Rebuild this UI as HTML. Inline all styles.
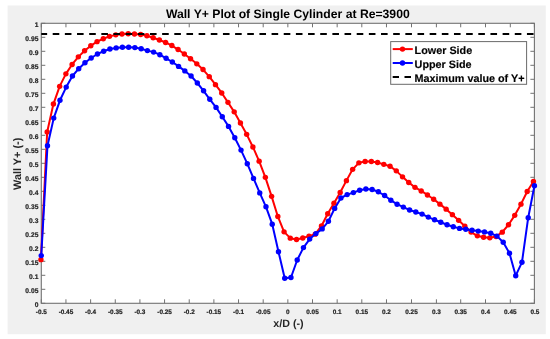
<!DOCTYPE html>
<html><head><meta charset="utf-8"><title>Wall Y+ Plot</title>
<style>html,body{margin:0;padding:0;background:#fff;width:550px;height:339px;overflow:hidden;position:relative}</style>
</head><body>
<svg width="550" height="339" viewBox="0 0 550 339" style="position:absolute;left:0;top:0;text-rendering:geometricPrecision;filter:blur(0.35px)"><rect x="7.6" y="5.5" width="538.2" height="328.7" fill="#f0f0f0"/><rect x="41.3" y="23.3" width="493.09999999999997" height="280.0" fill="#ffffff"/><path d="M41.30,303.3v-4M41.30,23.3v4M41.3,303.30h4M534.4,303.30h-4M65.95,303.3v-4M65.95,23.3v4M41.3,289.30h4M534.4,289.30h-4M90.61,303.3v-4M90.61,23.3v4M41.3,275.30h4M534.4,275.30h-4M115.27,303.3v-4M115.27,23.3v4M41.3,261.30h4M534.4,261.30h-4M139.92,303.3v-4M139.92,23.3v4M41.3,247.30h4M534.4,247.30h-4M164.57,303.3v-4M164.57,23.3v4M41.3,233.30h4M534.4,233.30h-4M189.23,303.3v-4M189.23,23.3v4M41.3,219.30h4M534.4,219.30h-4M213.88,303.3v-4M213.88,23.3v4M41.3,205.30h4M534.4,205.30h-4M238.54,303.3v-4M238.54,23.3v4M41.3,191.30h4M534.4,191.30h-4M263.19,303.3v-4M263.19,23.3v4M41.3,177.30h4M534.4,177.30h-4M287.85,303.3v-4M287.85,23.3v4M41.3,163.30h4M534.4,163.30h-4M312.50,303.3v-4M312.50,23.3v4M41.3,149.30h4M534.4,149.30h-4M337.16,303.3v-4M337.16,23.3v4M41.3,135.30h4M534.4,135.30h-4M361.81,303.3v-4M361.81,23.3v4M41.3,121.30h4M534.4,121.30h-4M386.47,303.3v-4M386.47,23.3v4M41.3,107.30h4M534.4,107.30h-4M411.50,303.3v-4M411.50,23.3v4M41.3,93.30h4M534.4,93.30h-4M436.40,303.3v-4M436.40,23.3v4M41.3,79.30h4M534.4,79.30h-4M460.70,303.3v-4M460.70,23.3v4M41.3,65.30h4M534.4,65.30h-4M485.50,303.3v-4M485.50,23.3v4M41.3,51.30h4M534.4,51.30h-4M510.30,303.3v-4M510.30,23.3v4M41.3,37.30h4M534.4,37.30h-4M534.40,303.3v-4M534.40,23.3v4M41.3,23.30h4M534.4,23.30h-4" stroke="#727272" stroke-width="1" fill="none"/><rect x="41.3" y="23.3" width="493.09999999999997" height="280.0" fill="none" stroke="#727272" stroke-width="1.1"/><g><polyline points="40.94,259.65 47.17,132.05 53.41,104.05 59.64,86.35 65.88,73.85 72.11,64.45 78.35,56.85 84.58,50.75 90.81,45.75 97.05,41.65 103.28,38.75 109.52,36.35 115.75,34.85 121.98,33.95 128.22,33.75 134.45,33.95 140.69,34.55 146.92,35.75 153.16,37.75 159.39,39.95 165.62,42.45 171.86,45.55 178.09,49.55 184.33,54.05 190.56,58.75 196.80,63.85 203.03,69.55 209.26,76.65 215.50,84.65 221.73,92.95 227.97,102.35 234.20,111.85 240.43,122.95 246.67,134.35 252.90,146.95 259.14,161.15 265.37,177.35 271.61,196.35 277.84,216.45 284.07,231.85 290.31,238.15 296.54,239.55 302.78,238.05 309.01,236.15 315.24,234.15 321.48,225.95 327.71,213.75 333.95,203.15 340.18,192.45 346.42,180.65 352.65,169.35 358.88,162.85 365.12,161.55 371.35,161.55 377.59,162.45 383.82,164.35 390.06,166.25 396.29,170.85 402.52,176.85 408.76,182.55 414.99,187.35 421.23,190.95 427.46,194.95 433.69,199.25 439.93,204.15 446.16,209.15 452.40,214.65 458.63,220.35 464.87,226.15 471.10,232.05 477.33,235.85 483.57,237.25 489.80,237.85 496.04,236.45 502.27,232.15 508.51,224.75 514.74,215.35 520.97,204.15 527.21,191.45 533.44,181.45" fill="none" stroke="#ff0000" stroke-width="2" stroke-linejoin="round"/><g fill="#ff0000"><circle cx="40.94" cy="259.65" r="2.7"/><circle cx="47.17" cy="132.05" r="2.7"/><circle cx="53.41" cy="104.05" r="2.7"/><circle cx="59.64" cy="86.35" r="2.7"/><circle cx="65.88" cy="73.85" r="2.7"/><circle cx="72.11" cy="64.45" r="2.7"/><circle cx="78.35" cy="56.85" r="2.7"/><circle cx="84.58" cy="50.75" r="2.7"/><circle cx="90.81" cy="45.75" r="2.7"/><circle cx="97.05" cy="41.65" r="2.7"/><circle cx="103.28" cy="38.75" r="2.7"/><circle cx="109.52" cy="36.35" r="2.7"/><circle cx="115.75" cy="34.85" r="2.7"/><circle cx="121.98" cy="33.95" r="2.7"/><circle cx="128.22" cy="33.75" r="2.7"/><circle cx="134.45" cy="33.95" r="2.7"/><circle cx="140.69" cy="34.55" r="2.7"/><circle cx="146.92" cy="35.75" r="2.7"/><circle cx="153.16" cy="37.75" r="2.7"/><circle cx="159.39" cy="39.95" r="2.7"/><circle cx="165.62" cy="42.45" r="2.7"/><circle cx="171.86" cy="45.55" r="2.7"/><circle cx="178.09" cy="49.55" r="2.7"/><circle cx="184.33" cy="54.05" r="2.7"/><circle cx="190.56" cy="58.75" r="2.7"/><circle cx="196.80" cy="63.85" r="2.7"/><circle cx="203.03" cy="69.55" r="2.7"/><circle cx="209.26" cy="76.65" r="2.7"/><circle cx="215.50" cy="84.65" r="2.7"/><circle cx="221.73" cy="92.95" r="2.7"/><circle cx="227.97" cy="102.35" r="2.7"/><circle cx="234.20" cy="111.85" r="2.7"/><circle cx="240.43" cy="122.95" r="2.7"/><circle cx="246.67" cy="134.35" r="2.7"/><circle cx="252.90" cy="146.95" r="2.7"/><circle cx="259.14" cy="161.15" r="2.7"/><circle cx="265.37" cy="177.35" r="2.7"/><circle cx="271.61" cy="196.35" r="2.7"/><circle cx="277.84" cy="216.45" r="2.7"/><circle cx="284.07" cy="231.85" r="2.7"/><circle cx="290.31" cy="238.15" r="2.7"/><circle cx="296.54" cy="239.55" r="2.7"/><circle cx="302.78" cy="238.05" r="2.7"/><circle cx="309.01" cy="236.15" r="2.7"/><circle cx="315.24" cy="234.15" r="2.7"/><circle cx="321.48" cy="225.95" r="2.7"/><circle cx="327.71" cy="213.75" r="2.7"/><circle cx="333.95" cy="203.15" r="2.7"/><circle cx="340.18" cy="192.45" r="2.7"/><circle cx="346.42" cy="180.65" r="2.7"/><circle cx="352.65" cy="169.35" r="2.7"/><circle cx="358.88" cy="162.85" r="2.7"/><circle cx="365.12" cy="161.55" r="2.7"/><circle cx="371.35" cy="161.55" r="2.7"/><circle cx="377.59" cy="162.45" r="2.7"/><circle cx="383.82" cy="164.35" r="2.7"/><circle cx="390.06" cy="166.25" r="2.7"/><circle cx="396.29" cy="170.85" r="2.7"/><circle cx="402.52" cy="176.85" r="2.7"/><circle cx="408.76" cy="182.55" r="2.7"/><circle cx="414.99" cy="187.35" r="2.7"/><circle cx="421.23" cy="190.95" r="2.7"/><circle cx="427.46" cy="194.95" r="2.7"/><circle cx="433.69" cy="199.25" r="2.7"/><circle cx="439.93" cy="204.15" r="2.7"/><circle cx="446.16" cy="209.15" r="2.7"/><circle cx="452.40" cy="214.65" r="2.7"/><circle cx="458.63" cy="220.35" r="2.7"/><circle cx="464.87" cy="226.15" r="2.7"/><circle cx="471.10" cy="232.05" r="2.7"/><circle cx="477.33" cy="235.85" r="2.7"/><circle cx="483.57" cy="237.25" r="2.7"/><circle cx="489.80" cy="237.85" r="2.7"/><circle cx="496.04" cy="236.45" r="2.7"/><circle cx="502.27" cy="232.15" r="2.7"/><circle cx="508.51" cy="224.75" r="2.7"/><circle cx="514.74" cy="215.35" r="2.7"/><circle cx="520.97" cy="204.15" r="2.7"/><circle cx="527.21" cy="191.45" r="2.7"/><circle cx="533.44" cy="181.45" r="2.7"/></g><polyline points="41.25,255.60 47.49,145.80 53.74,118.10 59.98,100.30 66.22,87.10 72.46,76.00 78.71,68.70 84.95,62.80 91.19,58.00 97.44,54.00 103.68,51.20 109.92,49.00 116.16,47.90 122.41,47.20 128.65,47.20 134.89,47.60 141.14,48.70 147.38,50.60 153.62,52.10 159.87,54.70 166.11,58.30 172.35,62.00 178.59,66.40 184.84,70.90 191.08,76.00 197.32,83.00 203.57,90.80 209.81,99.30 216.05,107.40 222.29,116.80 228.54,126.40 234.78,137.80 241.02,150.10 247.27,163.70 253.51,178.40 259.75,192.90 265.99,206.80 272.24,224.20 278.48,251.70 284.72,278.30 290.97,277.50 297.21,260.00 303.45,247.60 309.69,239.10 315.94,233.60 322.18,228.90 328.42,221.30 334.67,208.40 340.91,198.00 347.15,194.60 353.39,192.60 359.64,190.30 365.88,189.00 372.12,189.50 378.37,191.80 384.61,195.50 390.85,200.30 397.10,204.20 403.34,207.10 409.58,210.00 415.82,212.00 422.07,214.10 428.31,217.10 434.55,219.80 440.80,222.30 447.04,224.70 453.28,226.80 459.52,228.40 465.77,229.30 472.01,230.30 478.25,231.10 484.50,231.90 490.74,233.20 496.98,236.10 503.22,242.30 509.47,253.20 515.71,275.70 521.95,262.30 528.20,217.70 534.44,185.80" fill="none" stroke="#0000ff" stroke-width="2" stroke-linejoin="round"/><g fill="#0000ff"><circle cx="41.25" cy="255.60" r="2.7"/><circle cx="47.49" cy="145.80" r="2.7"/><circle cx="53.74" cy="118.10" r="2.7"/><circle cx="59.98" cy="100.30" r="2.7"/><circle cx="66.22" cy="87.10" r="2.7"/><circle cx="72.46" cy="76.00" r="2.7"/><circle cx="78.71" cy="68.70" r="2.7"/><circle cx="84.95" cy="62.80" r="2.7"/><circle cx="91.19" cy="58.00" r="2.7"/><circle cx="97.44" cy="54.00" r="2.7"/><circle cx="103.68" cy="51.20" r="2.7"/><circle cx="109.92" cy="49.00" r="2.7"/><circle cx="116.16" cy="47.90" r="2.7"/><circle cx="122.41" cy="47.20" r="2.7"/><circle cx="128.65" cy="47.20" r="2.7"/><circle cx="134.89" cy="47.60" r="2.7"/><circle cx="141.14" cy="48.70" r="2.7"/><circle cx="147.38" cy="50.60" r="2.7"/><circle cx="153.62" cy="52.10" r="2.7"/><circle cx="159.87" cy="54.70" r="2.7"/><circle cx="166.11" cy="58.30" r="2.7"/><circle cx="172.35" cy="62.00" r="2.7"/><circle cx="178.59" cy="66.40" r="2.7"/><circle cx="184.84" cy="70.90" r="2.7"/><circle cx="191.08" cy="76.00" r="2.7"/><circle cx="197.32" cy="83.00" r="2.7"/><circle cx="203.57" cy="90.80" r="2.7"/><circle cx="209.81" cy="99.30" r="2.7"/><circle cx="216.05" cy="107.40" r="2.7"/><circle cx="222.29" cy="116.80" r="2.7"/><circle cx="228.54" cy="126.40" r="2.7"/><circle cx="234.78" cy="137.80" r="2.7"/><circle cx="241.02" cy="150.10" r="2.7"/><circle cx="247.27" cy="163.70" r="2.7"/><circle cx="253.51" cy="178.40" r="2.7"/><circle cx="259.75" cy="192.90" r="2.7"/><circle cx="265.99" cy="206.80" r="2.7"/><circle cx="272.24" cy="224.20" r="2.7"/><circle cx="278.48" cy="251.70" r="2.7"/><circle cx="284.72" cy="278.30" r="2.7"/><circle cx="290.97" cy="277.50" r="2.7"/><circle cx="297.21" cy="260.00" r="2.7"/><circle cx="303.45" cy="247.60" r="2.7"/><circle cx="309.69" cy="239.10" r="2.7"/><circle cx="315.94" cy="233.60" r="2.7"/><circle cx="322.18" cy="228.90" r="2.7"/><circle cx="328.42" cy="221.30" r="2.7"/><circle cx="334.67" cy="208.40" r="2.7"/><circle cx="340.91" cy="198.00" r="2.7"/><circle cx="347.15" cy="194.60" r="2.7"/><circle cx="353.39" cy="192.60" r="2.7"/><circle cx="359.64" cy="190.30" r="2.7"/><circle cx="365.88" cy="189.00" r="2.7"/><circle cx="372.12" cy="189.50" r="2.7"/><circle cx="378.37" cy="191.80" r="2.7"/><circle cx="384.61" cy="195.50" r="2.7"/><circle cx="390.85" cy="200.30" r="2.7"/><circle cx="397.10" cy="204.20" r="2.7"/><circle cx="403.34" cy="207.10" r="2.7"/><circle cx="409.58" cy="210.00" r="2.7"/><circle cx="415.82" cy="212.00" r="2.7"/><circle cx="422.07" cy="214.10" r="2.7"/><circle cx="428.31" cy="217.10" r="2.7"/><circle cx="434.55" cy="219.80" r="2.7"/><circle cx="440.80" cy="222.30" r="2.7"/><circle cx="447.04" cy="224.70" r="2.7"/><circle cx="453.28" cy="226.80" r="2.7"/><circle cx="459.52" cy="228.40" r="2.7"/><circle cx="465.77" cy="229.30" r="2.7"/><circle cx="472.01" cy="230.30" r="2.7"/><circle cx="478.25" cy="231.10" r="2.7"/><circle cx="484.50" cy="231.90" r="2.7"/><circle cx="490.74" cy="233.20" r="2.7"/><circle cx="496.98" cy="236.10" r="2.7"/><circle cx="503.22" cy="242.30" r="2.7"/><circle cx="509.47" cy="253.20" r="2.7"/><circle cx="515.71" cy="275.70" r="2.7"/><circle cx="521.95" cy="262.30" r="2.7"/><circle cx="528.20" cy="217.70" r="2.7"/><circle cx="534.44" cy="185.80" r="2.7"/></g><line x1="41.3" y1="33.9" x2="534.4" y2="33.9" stroke="#000" stroke-width="2" stroke-dasharray="6.6 5.56" stroke-dashoffset="0.76"/></g><g font-family="'Liberation Sans', sans-serif" font-weight="bold" font-size="6.4" fill="#262626" stroke="#262626" stroke-width="0.2"><text x="41.30" y="313.6" text-anchor="middle">-0.5</text><text x="65.95" y="313.6" text-anchor="middle">-0.45</text><text x="90.61" y="313.6" text-anchor="middle">-0.4</text><text x="115.27" y="313.6" text-anchor="middle">-0.35</text><text x="139.92" y="313.6" text-anchor="middle">-0.3</text><text x="164.57" y="313.6" text-anchor="middle">-0.25</text><text x="189.23" y="313.6" text-anchor="middle">-0.2</text><text x="213.88" y="313.6" text-anchor="middle">-0.15</text><text x="238.54" y="313.6" text-anchor="middle">-0.1</text><text x="263.19" y="313.6" text-anchor="middle">-0.05</text><text x="287.85" y="313.6" text-anchor="middle">0</text><text x="312.50" y="313.6" text-anchor="middle">0.05</text><text x="337.16" y="313.6" text-anchor="middle">0.1</text><text x="361.81" y="313.6" text-anchor="middle">0.15</text><text x="386.47" y="313.6" text-anchor="middle">0.2</text><text x="411.50" y="313.6" text-anchor="middle">0.25</text><text x="436.40" y="313.6" text-anchor="middle">0.3</text><text x="460.70" y="313.6" text-anchor="middle">0.35</text><text x="485.50" y="313.6" text-anchor="middle">0.4</text><text x="510.30" y="313.6" text-anchor="middle">0.45</text><text x="534.90" y="313.6" text-anchor="middle">0.5</text></g><g font-family="'Liberation Sans', sans-serif" font-weight="bold" font-size="6.7" fill="#262626" stroke="#262626" stroke-width="0.2"><text x="38.4" y="306.60" text-anchor="end">0</text><text x="38.4" y="292.60" text-anchor="end">0.05</text><text x="38.4" y="278.60" text-anchor="end">0.1</text><text x="38.4" y="264.60" text-anchor="end">0.15</text><text x="38.4" y="250.60" text-anchor="end">0.2</text><text x="38.4" y="236.60" text-anchor="end">0.25</text><text x="38.4" y="222.60" text-anchor="end">0.3</text><text x="38.4" y="208.60" text-anchor="end">0.35</text><text x="38.4" y="194.60" text-anchor="end">0.4</text><text x="38.4" y="180.60" text-anchor="end">0.45</text><text x="38.4" y="166.60" text-anchor="end">0.5</text><text x="38.4" y="152.60" text-anchor="end">0.55</text><text x="38.4" y="138.60" text-anchor="end">0.6</text><text x="38.4" y="124.60" text-anchor="end">0.65</text><text x="38.4" y="110.60" text-anchor="end">0.7</text><text x="38.4" y="96.60" text-anchor="end">0.75</text><text x="38.4" y="82.60" text-anchor="end">0.8</text><text x="38.4" y="68.60" text-anchor="end">0.85</text><text x="38.4" y="54.60" text-anchor="end">0.9</text><text x="38.4" y="40.60" text-anchor="end">0.95</text><text x="38.4" y="26.60" text-anchor="end">1</text></g><text x="287.8" y="17.9" text-anchor="middle" font-family="'Liberation Sans', sans-serif" font-weight="bold" font-size="12.2" fill="#000">Wall Y+ Plot of Single Cylinder at Re=3900</text><text x="288.5" y="327.2" text-anchor="middle" font-family="'Liberation Sans', sans-serif" font-weight="bold" font-size="10.7" fill="#262626">x/D (-)</text><text transform="translate(20.7,163.8) rotate(-90)" text-anchor="middle" font-family="'Liberation Sans', sans-serif" font-weight="bold" font-size="10.9" fill="#262626">Wall Y+ (-)</text><rect x="390.7" y="41.6" width="135.90000000000003" height="42.699999999999996" fill="#fff" stroke="#6a6a6a" stroke-width="1"/><line x1="392.7" y1="49.1" x2="412.8" y2="49.1" stroke="#ff0000" stroke-width="2"/><circle cx="402.5" cy="49.1" r="2.7" fill="#ff0000"/><text x="414.6" y="53.9" font-family="'Liberation Sans', sans-serif" font-weight="bold" font-size="10.8" fill="#000" stroke="#000" stroke-width="0.15">Lower Side</text><line x1="392.7" y1="63.0" x2="412.8" y2="63.0" stroke="#0000ff" stroke-width="2"/><circle cx="402.5" cy="63.0" r="2.7" fill="#0000ff"/><text x="414.6" y="67.9" font-family="'Liberation Sans', sans-serif" font-weight="bold" font-size="10.8" fill="#000" stroke="#000" stroke-width="0.15">Upper Side</text><path d="M392.7,76.9h6.3M404.5,76.9h6.5" stroke="#000" stroke-width="2"/><text x="414.6" y="81.8" font-family="'Liberation Sans', sans-serif" font-weight="bold" font-size="10.8" fill="#000" stroke="#000" stroke-width="0.15">Maximum value of Y+</text></svg>
</body></html>
